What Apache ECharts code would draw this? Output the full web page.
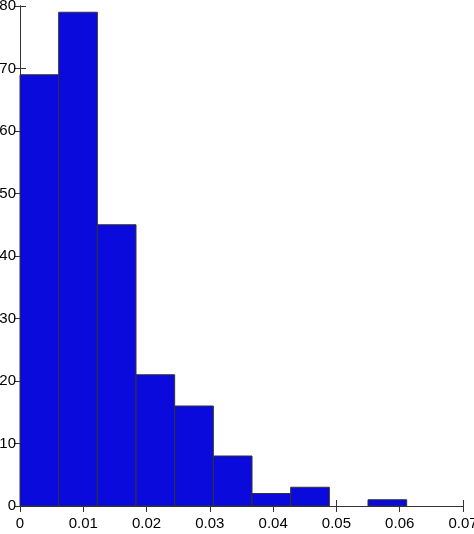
<!DOCTYPE html><html><head><meta charset="utf-8"><script src="https://cdn.jsdelivr.net/npm/echarts@6/dist/echarts.min.js"></script>
<style>html,body{margin:0;padding:0;background:#fff}#c{width:474px;height:534px}</style></head><body><div id="c"></div><script>
const binStart = [0,0.00611,0.01222,0.01833,0.02444,0.03055,0.03666,0.04277,0.04888,0.05499];
const binEnd = [0.00611,0.01222,0.01833,0.02444,0.03055,0.03666,0.04277,0.04888,0.05499,0.0611];
const counts = [69,79,45,21,16,8,2,3,0,1];
const data = counts.map((c,i)=>[binStart[i],binEnd[i],c]);
const font = {fontFamily:'Liberation Sans Narrow, Liberation Sans, sans-serif',fontSize:15,color:'#000'};
const chart = echarts.init(document.getElementById('c'));
chart.setOption({
  animation:false,
  grid:{left:20,right:11,top:6,bottom:28,containLabel:false,outerBoundsMode:'none'},
  xAxis:[{type:'value',min:0,max:0.07,interval:0.01,axisLine:{lineStyle:{color:'#333'}},axisTick:{inside:true,length:6,lineStyle:{color:'#333'}},axisLabel:{...font,margin:10,formatter:v=>+v.toFixed(2)+''},splitLine:{show:false}},
         {type:'value',position:'top',min:0,max:0.07,interval:0.01,axisLine:{lineStyle:{color:'#333'}},axisTick:{inside:true,length:6,lineStyle:{color:'#333'}},axisLabel:{show:false},splitLine:{show:false}}],
  yAxis:[{type:'value',min:0,max:80,interval:10,axisLine:{show:true,lineStyle:{color:'#333'}},axisTick:{show:true,inside:true,length:6,lineStyle:{color:'#333'}},axisLabel:{...font,margin:4},splitLine:{show:false}},
         {type:'value',position:'right',min:0,max:80,interval:10,axisLine:{show:true,lineStyle:{color:'#333'}},axisTick:{show:true,inside:true,length:6,lineStyle:{color:'#333'}},axisLabel:{show:false},splitLine:{show:false}}],
  series:[{type:'custom',data:data,encode:{x:[0,1],y:2},
    renderItem:(p,api)=>{
      if(api.value(2)<=0) return null;
      const a=api.coord([api.value(0),api.value(2)]), b=api.coord([api.value(1),0]);
      return {type:'rect',shape:{x:a[0],y:a[1],width:b[0]-a[0],height:b[1]-a[1]},style:{fill:'#0a0add',stroke:'#333',lineWidth:1}};
    }}]
});
</script></body></html>
